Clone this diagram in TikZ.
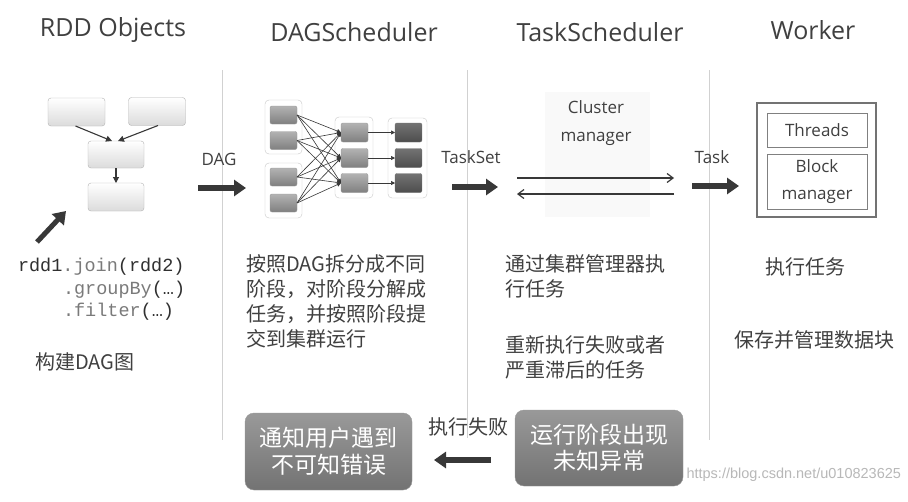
\documentclass[tikz,border=0pt]{standalone}
\usepackage{fontspec}
\setmainfont{Open Sans}
\newfontfamily\cjk{Noto Sans CJK SC}
\newfontfamily\codefont{Liberation Mono}
\newfontfamily\wmfont{Liberation Sans}
\usetikzlibrary{arrows.meta}
\definecolor{txt}{HTML}{404040}
\definecolor{arr}{HTML}{383838}
\definecolor{codedark}{HTML}{303030}
\definecolor{codelight}{HTML}{7A7A7A}
\begin{document}
\begin{tikzpicture}[x=1pt,y=-1pt,
  every node/.style={inner sep=0pt, outer sep=0pt},
  title/.style={font=\fontsize{25}{30}\selectfont, text=txt},
  lbl/.style={font=\fontsize{17}{20}\selectfont, text=txt},
  cn/.style={font=\cjk\fontsize{20}{25}\selectfont, text=txt, align=left},
  code/.style={font=\codefont\fontsize{18.5}{22}\selectfont},
  rddbox/.style={draw=black!30, rounded corners=3pt, top color=white, bottom color=black!14, minimum width=57, minimum height=28},
  grp/.style={draw=black!22, rounded corners=4pt, fill=white},
  gbox/.style={draw=black!40, rounded corners=2pt, top color=black!30, bottom color=black!50, minimum width=27, minimum height=18},
  dbox/.style={draw=black!55, rounded corners=2pt, top color=black!55, bottom color=black!70, minimum width=27, minimum height=18},
  sep/.style={draw=black!18, line width=1pt},
  bigarrow/.style={draw=arr, line width=5.5pt, -{Triangle[length=12pt,width=16pt]}},
  thinarrow/.style={draw=arr, line width=1.1pt, -{Triangle[length=6pt,width=6pt]}},
  edgearrow/.style={draw=arr, line width=0.6pt, -{Triangle[length=4pt,width=4pt]}},
  barb/.style={draw=arr, line width=1.2pt, -{Straight Barb[length=6pt,width=9pt]}},
  errbox/.style={draw=black!40, rounded corners=9pt, top color=black!40, bottom color=black!55, text=white, font=\cjk\fontsize{23}{27}\selectfont, align=center, minimum width=167, minimum height=77},
]
\fill[white] (0,0) rectangle (908,501);
\useasboundingbox (0,0) rectangle (908,501);

% separators
\coordinate (s1t) at (222,70); \coordinate (s1b) at (222,440);
\coordinate (s2t) at (467,70); \coordinate (s2b) at (467,438);
\coordinate (s3t) at (709,70); \coordinate (s3b) at (709,440);
\draw[sep] (s1t) -- (s1b);
\draw[sep] (s2t) -- (s2b);
\draw[sep] (s3t) -- (s3b);

% titles
\node[title] (t1) at (113,30) {RDD Objects};
\node[title] (t2) at (354,32) {DAGScheduler};
\node[title] (t3) at (600,32) {TaskScheduler};
\node[title] (t4) at (813,30) {Worker};

% RDD objects
\node[rddbox] (b1) at (76.5,112) {};
\node[rddbox] (b2) at (157,111.5) {};
\node[rddbox, minimum width=56, minimum height=27] (b3) at (116,154.5) {};
\node[rddbox, minimum width=56] (b4) at (116,197) {};
\draw[thinarrow] ([xshift=-1]b1.south) -- ([xshift=-4]b3.north);
\draw[thinarrow] ([xshift=1]b2.south) -- ([xshift=2]b3.north);
\draw[thinarrow] (b3.south) -- (b4.north);
\coordinate (da1) at (37,242); \coordinate (da2) at (66,211);
\draw[bigarrow, line width=5pt] (da1) -- (da2);

\node[code, anchor=west] (c1) at (18,267) {\textcolor{codedark}{rdd1}\textcolor{codelight}{.join}\textcolor{codedark}{(rdd2)}};
\node[code, anchor=west] (c2) at (63,290) {\textcolor{codelight}{.groupBy}\textcolor{codedark}{(…)}};
\node[code, anchor=west] (c3) at (63,312) {\textcolor{codelight}{.filter}\textcolor{codedark}{(…)}};
\node[cn, anchor=west] (c4) at (35,362) {构建DAG图};

\node[lbl] (lDAG) at (219,159) {DAG};
\coordinate (a1s) at (198,188); \coordinate (a1e) at (246,188);
\draw[bigarrow] (a1s) -- (a1e);

% DAGScheduler
\node[grp, minimum width=37, minimum height=54] (g1) at (283.5,127) {};
\node[grp, minimum width=37, minimum height=55] (g2) at (283.5,190.5) {};
\node[grp, minimum width=38, minimum height=81] (g3) at (354,157.5) {};
\node[grp, minimum width=39, minimum height=80] (g4) at (407.5,158) {};
\node[gbox] (la) at (283.5,115) {};
\node[gbox] (lb) at (283.5,140.5) {};
\node[gbox] (lc) at (283.5,177) {};
\node[gbox] (ld) at (283.5,203) {};
\node[gbox, minimum height=19] (m1) at (354.5,132.5) {};
\node[gbox, minimum height=19] (m2) at (354.5,158) {};
\node[gbox, minimum height=19] (m3) at (354.5,183) {};
\node[dbox, minimum height=19] (r1) at (408.5,132.5) {};
\node[dbox, minimum height=19] (r2) at (408.5,158) {};
\node[dbox, minimum height=19] (r3) at (408.5,183) {};
\foreach \s in {la,lb,lc,ld}{
  \foreach \t in {m1,m2,m3}{
    \draw[edgearrow] (\s.east) -- (\t.west);
  }
}
\draw[edgearrow] (m1.east) -- (r1.west);
\draw[edgearrow] (m2.east) -- (r2.west);
\draw[edgearrow] (m3.east) -- (r3.west);

\node[cn, anchor=north west] (d1) at (246,255) {按照DAG拆分成不同\\阶段，对阶段分解成\\任务，并按照阶段提\\交到集群运行};

\node[lbl] (lTS) at (471,157) {TaskSet};
\coordinate (a2s) at (452,187); \coordinate (a2e) at (498,187);
\draw[bigarrow] (a2s) -- (a2e);

% TaskScheduler
\node[fill=black!2.5, minimum width=105, minimum height=125] (cmbg) at (597.5,154.5) {};
\node[lbl, align=center, font=\fontsize{17}{28}\selectfont] (cm) at (596,123) {Cluster\\manager};
\coordinate (p1) at (517,178); \coordinate (p2) at (674,178);
\coordinate (q1) at (674,194); \coordinate (q2) at (517,194);
\draw[barb] (p1) -- (p2);
\draw[barb] (q1) -- (q2);

\node[cn, anchor=north west] (d2) at (505,255) {通过集群管理器执\\行任务};
\node[cn, anchor=north west] (d3) at (505,336) {重新执行失败或者\\严重滞后的任务};

\node[lbl] (lTask) at (712,157) {Task};
\coordinate (a3s) at (692,186); \coordinate (a3e) at (739,186);
\draw[bigarrow] (a3s) -- (a3e);

% Worker
\node[draw=black!55, line width=1.4pt, minimum width=119, minimum height=114] (wk) at (816.5,160) {};
\node[draw=black!50, line width=0.9pt, minimum width=100, minimum height=34, lbl] (th) at (817,130) {Threads};
\node[draw=black!50, line width=0.9pt, minimum width=100, minimum height=55, lbl, align=center, font=\fontsize{17}{27}\selectfont] (bm) at (817,181.5) {Block\\manager};

\node[cn] (w1) at (805,267) {执行任务};
\node[cn] (w2) at (814,340) {保存并管理数据块};

% bottom
\node[errbox] (e1) at (328.5,451.5) {通知用户遇到\\不可知错误};
\node[errbox, minimum width=168, minimum height=76, font=\cjk\fontsize{23}{26}\selectfont] (e2) at (599,448) {运行阶段出现\\未知异常};
\node[cn] (fail) at (468,427) {执行失败};
\coordinate (f1) at (491,460); \coordinate (f2) at (434,460);
\draw[bigarrow] (f1) -- (f2);

\node[font=\wmfont\fontsize{14.5}{16}\selectfont, text=black!28, anchor=east] (wm) at (901,475) {https://blog.csdn.net/u010823625};
\end{tikzpicture}
\end{document}
